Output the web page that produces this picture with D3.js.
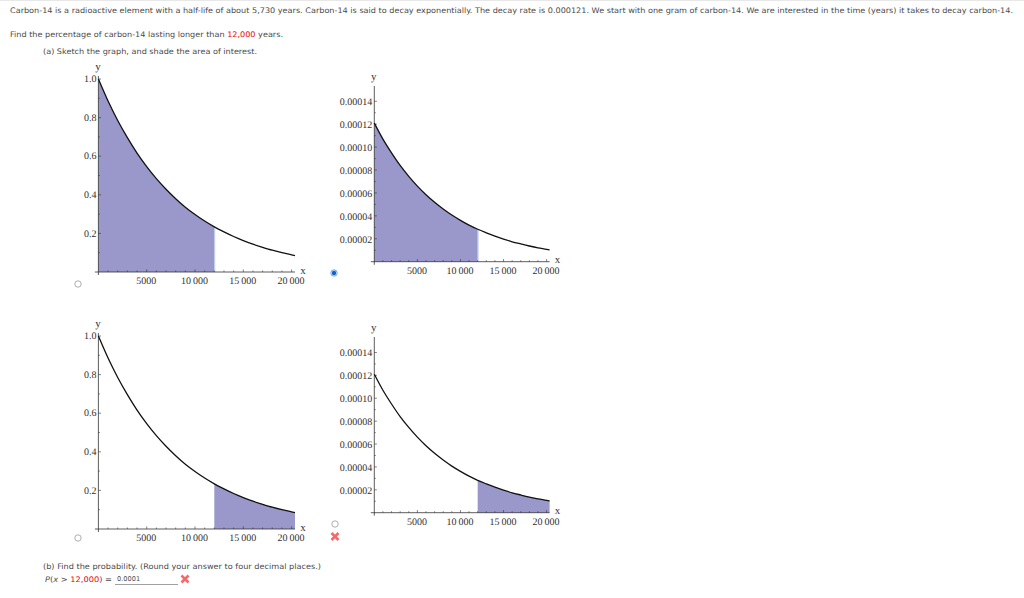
<!DOCTYPE html>
<html><head><meta charset="utf-8">
<script src="https://cdnjs.cloudflare.com/ajax/libs/d3/7.8.5/d3.min.js"></script>
<style>
html,body{margin:0;padding:0;background:#fff;overflow:hidden}
svg{display:block;text-rendering:geometricPrecision}
.t{font-family:"DejaVu Sans",sans-serif;font-size:7.6px;fill:#4a4a4a}
.m{font-family:"Liberation Serif",serif;font-size:10px;fill:#333}
.a{font-family:"Liberation Serif",serif;font-size:11px;fill:#333}
</style></head><body>
<svg id="c" width="1024" height="598"></svg>
<script>
const years=[0,1000,2000,3000,4000,5000,6000,7000,8000,9000,10000,11000,12000,13000,14000,15000,16000,17000,18000,19000,20000,20350];
const remaining=[1,.886,.785,.696,.616,.546,.484,.429,.38,.336,.298,.264,.234,.208,.184,.163,.144,.128,.113,.1,.089,.085];
const density=[.000121,.000107,.000095,.000084,.0000745,.000066,.0000585,.0000519,.000046,.0000407,.0000361,.0000319,.0000283,.0000252,.0000223,.0000197,.0000174,.0000155,.0000137,.0000121,.0000108,.0000103];
const xLabels=[5000,10000,15000,20000];
const yFraction=[.2,.4,.6,.8,1];
const yRate=[.00002,.00004,.00006,.00008,.0001,.00012,.00014];
const cutoff=12000;

const svg=d3.select("#c");
svg.append("rect").attr("width",1024).attr("height",1).attr("fill","#e8e8e8");
const fmtX=d=>d<10000?String(d):d3.format("d")(Math.floor(d/1000))+"\u2009"+"000";

function panel(o){
  const x=d3.scaleLinear().domain([0,20000]).range([o.x0,o.x20]);
  const y=d3.scaleLinear().domain([0,o.yRef]).range([o.base,o.yRefPx]);
  const g=svg.append("g");
  const pts=years.map((d,i)=>({x:d,y:o.vals[i]}));
  const shaded=o.side==="left"?pts.filter(p=>p.x<=cutoff):pts.filter(p=>p.x>=cutoff);
  const area=d3.area().x(d=>x(d.x)).y0(y(0)).y1(d=>y(d.y)).curve(d3.curveMonotoneX);
  const line=d3.line().x(d=>x(d.x)).y(d=>y(d.y)).curve(d3.curveMonotoneX);
  g.append("path").attr("d",area(shaded)).attr("fill","#9a97ca");
  if(o.side==="left"){
    g.append("line").attr("x1",x(cutoff)+.4).attr("x2",x(cutoff)+.4).attr("y1",y(0)).attr("y2",y(o.vals[12]))
     .attr("stroke","#b4c6e4").attr("stroke-width",.9);
  }
  const ax=g.append("g").attr("stroke","#333").attr("fill","none");
  ax.append("line").attr("x1",o.x0-3.5).attr("x2",x(20350)).attr("y1",o.base).attr("y2",o.base).attr("stroke-width",.8);
  ax.append("line").attr("x1",o.x0).attr("x2",o.x0).attr("y1",o.base+3).attr("y2",o.top).attr("stroke-width",.8);
  d3.range(1000,21000,1000).forEach(v=>{
    const major=v%5000===0;
    ax.append("line").attr("x1",x(v)).attr("x2",x(v)).attr("y1",o.base).attr("y2",o.base-(major?2.6:1.5)).attr("stroke-width",.6);
  });
  const step=o.ticks[0]/2;
  o.ticks.forEach(v=>{
    ax.append("line").attr("x1",o.x0).attr("x2",o.x0+2.6).attr("y1",y(v)).attr("y2",y(v)).attr("stroke-width",.6);
    ax.append("line").attr("x1",o.x0).attr("x2",o.x0+1.5).attr("y1",y(v-step)).attr("y2",y(v-step)).attr("stroke-width",.6);
  });
  g.append("path").attr("d",line(pts)).attr("fill","none").attr("stroke","#111").attr("stroke-width",1.3);
  xLabels.forEach(v=>g.append("text").attr("class","m").attr("x",x(v)-.5).attr("y",o.base+o.xLab)
    .attr("text-anchor","middle").text(fmtX(v)));
  o.ticks.forEach(v=>g.append("text").attr("class","m").attr("x",o.x0-2).attr("y",y(v)+o.yLab)
    .attr("text-anchor","end").text(o.fmt(v)));
  g.append("text").attr("class","a").attr("x",o.x0-.5).attr("y",o.top-6).attr("text-anchor","middle").text("y");
  g.append("text").attr("class","a").attr("x",x(20350)+8).attr("y",o.base+o.xName).attr("text-anchor","middle").text("x");
}
const f1=d=>d3.format(".1f")(d), f5=d=>d3.format(".5f")(d);
const L={x0:98.4,x20:291.6,yRef:1,vals:remaining,ticks:yFraction,fmt:f1,xLab:12.2,yLab:3.2,xName:1.6};
const R={x0:374.3,x20:546.6,yRef:.00014,vals:density,ticks:yRate,fmt:f5,xLab:12.6,yLab:3.8,xName:1.4};
panel({...L,base:272,yRefPx:79,top:76,side:"left"});
panel({...R,base:261.7,yRefPx:101.3,top:86,side:"left"});
panel({...L,base:529,yRefPx:336,top:333,side:"right"});
panel({...R,base:512.7,yRefPx:352.5,top:337,side:"right"});

function txt(x,y,parts){
  const t=svg.append("text").attr("class","t").attr("x",x).attr("y",y);
  parts.forEach(p=>{const s=t.append("tspan").text(p.s);
    if(p.c)s.attr("fill",p.c); if(p.i)s.attr("font-style","italic");});
  return t;
}
txt(10,13,[{s:"Carbon-14 is a radioactive element with a half-life of about 5,730 years. Carbon-14 is said to decay exponentially. The decay rate is 0.000121. We start with one gram of carbon-14. We are interested in the time (years) it takes to decay carbon-14."}])
  .attr("textLength",1003).attr("lengthAdjust","spacingAndGlyphs");
txt(10,37,[{s:"Find the percentage of carbon-14 lasting longer than "},{s:"12,000",c:"#e00"},{s:" years."}])
  .attr("textLength",273).attr("lengthAdjust","spacingAndGlyphs");
txt(43,54,[{s:"(a) Sketch the graph, and shade the area of interest."}])
  .attr("textLength",214).attr("lengthAdjust","spacingAndGlyphs");
txt(43,569,[{s:"(b) Find the probability. (Round your answer to four decimal places.)"}])
  .attr("textLength",278).attr("lengthAdjust","spacingAndGlyphs");
txt(45,582,[{s:"P",i:1},{s:"(",},{s:"x",i:1},{s:" > "},{s:"12,000",c:"#e00"},{s:") = "}])
  .attr("textLength",67).attr("lengthAdjust","spacingAndGlyphs");
svg.append("text").attr("class","t").attr("x",117).attr("y",581).style("font-size","6.6px").text("0.0001");
svg.append("line").attr("x1",115).attr("x2",178).attr("y1",584.5).attr("y2",584.5).attr("stroke","#888").attr("stroke-width",.8);

function radio(cx,cy,on){
  svg.append("circle").attr("cx",cx).attr("cy",cy).attr("r",3.2).attr("fill","#fff").attr("stroke",on?"#3f8fe8":"#999").attr("stroke-width",.8);
  if(on)svg.append("circle").attr("cx",cx).attr("cy",cy).attr("r",2.2).attr("fill","#1560c0");
}
[[78,284,0],[334,273,1],[78,538,0],[335,524,0]].forEach(r=>radio(...r));
function cross(cx,cy){
  svg.append("path").attr("d",d3.symbol(d3.symbolX,34)())
   .attr("transform",`translate(${cx},${cy})`).attr("fill","none").attr("stroke","#f26a6a").attr("stroke-width",2.6);
}
[[335,536.5],[185,579]].forEach(c=>cross(...c));
</script></body></html>
